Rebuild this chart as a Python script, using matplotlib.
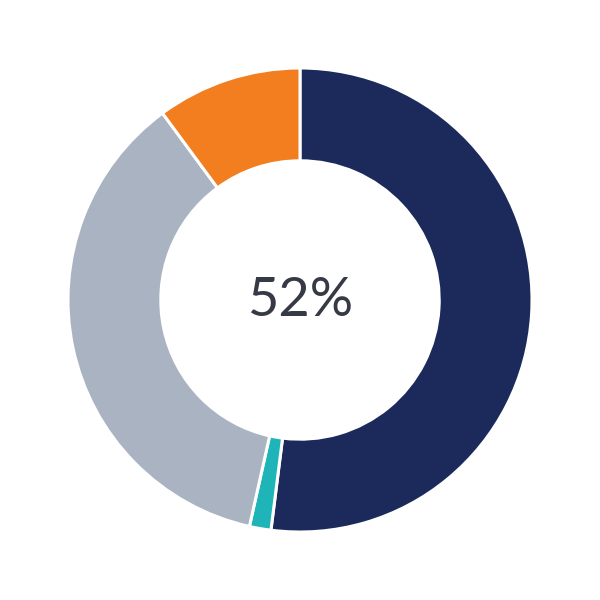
import matplotlib
matplotlib.use("Agg")
import matplotlib.pyplot as plt

labels = ["Navy", "Teal", "Gray", "Orange"]
values = [52.0, 1.5, 36.4, 10.1]
colors = ["#1B2A5B", "#1FB5B8", "#A9B3C1", "#F27E20"]
center_text = "52%"

fig = plt.figure(figsize=(6, 6), dpi=100)
ax = fig.add_axes([0, 0, 1, 1])
ax.pie(values, colors=colors, startangle=90, counterclock=False, radius=1.0,
       wedgeprops=dict(width=0.40, edgecolor="white", linewidth=2.2))
ax.text(0, 0, center_text, ha="center", va="center", fontsize=39,
        color="#353A45", family="Lato", fontweight="normal")
lim = 1.293
ax.set_xlim(-lim, lim)
ax.set_ylim(-lim, lim)
ax.set_aspect("equal")
ax.axis("off")
fig.savefig("out.png", dpi=100, facecolor="white")
